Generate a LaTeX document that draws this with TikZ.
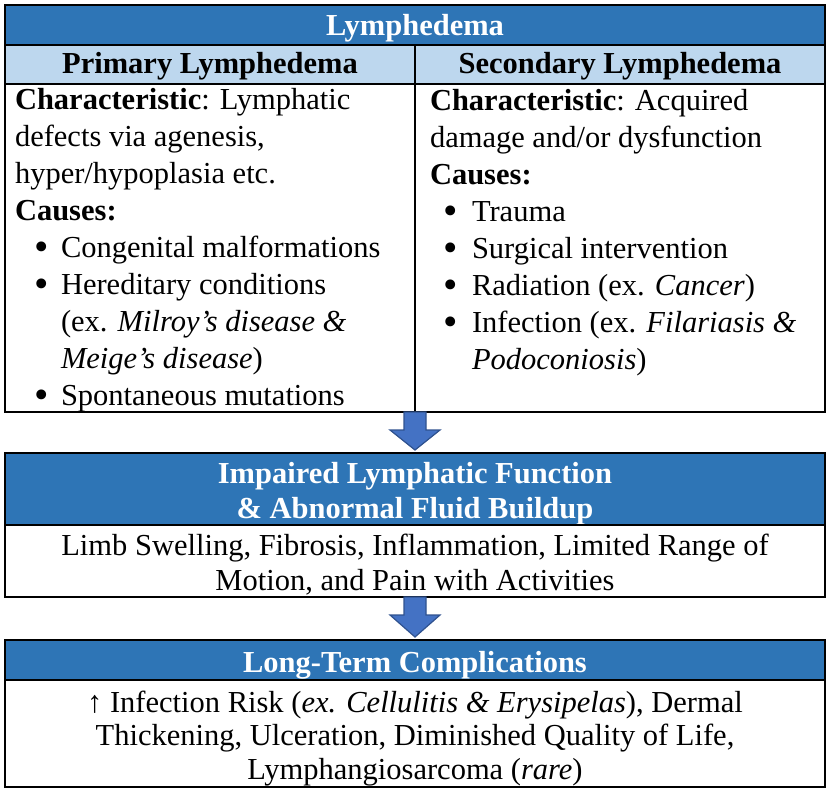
\documentclass[tikz,border=0pt]{standalone}
\usepackage{fontspec}
\setmainfont{Liberation Serif}
\usepackage{xcolor}
\usepackage{graphicx}
\usetikzlibrary{positioning}

\definecolor{hdblue}{HTML}{2E75B6}
\definecolor{subblue}{HTML}{BDD7EE}
\definecolor{arrblue}{HTML}{4472C4}
\definecolor{arredge}{HTML}{2F528F}

\newcommand{\bigbul}{\raisebox{-3pt}[0pt][0pt]{\scalebox{1.35}{\textbullet}}}
\newcommand{\bulL}{\hspace*{20pt}\makebox[26pt][l]{\bigbul}}
\newcommand{\indL}{\hspace*{46pt}}
\newcommand{\bulR}{\hspace*{13pt}\makebox[29pt][l]{\bigbul}}
\newcommand{\indR}{\hspace*{42pt}}

\tikzset{
  box/.style={draw=black, line width=1.4pt, inner sep=0pt, outer sep=0pt},
  darkhead/.style={box, fill=hdblue, text=white, align=center,
    font=\fontsize{30.5}{35}\selectfont\bfseries},
  subhead/.style={box, fill=subblue, text height=25pt, text depth=7pt,
    font=\fontsize{30.5}{37}\selectfont\bfseries},
  bodybox/.style={box, fill=white, align=center, font=\fontsize{30.5}{35}\selectfont},
  coltext/.style={inner sep=0pt, outer sep=0pt, align=left, font=\fontsize{30.5}{37}\selectfont},
  blockarr/.style={fill=arrblue, draw=arredge, line width=1.2pt, line join=miter}
}

\begin{document}
\begin{tikzpicture}[x=1pt, y=-1pt]
\useasboundingbox (0,0) rectangle (832,793);
\node[box, minimum width=820, minimum height=407, anchor=north west] (tab) at (5,5) {};
\node[darkhead, minimum width=820, minimum height=40, text height=26pt, text depth=6pt, anchor=north] (title) at (tab.north) {Lymphedema};
\node[subhead, minimum width=410, minimum height=39, anchor=north west] (prim) at (title.south west) {Primary Lymphedema};
\node[subhead, minimum width=410, minimum height=39, anchor=north west] (sec) at (prim.north east) {Secondary Lymphedema};
\draw[line width=1.4pt] (prim.south east) -- (prim.south east |- tab.south);
\node[coltext, below right=4.5pt and 10pt of prim.south west] (primtxt) {%
\textbf{Characteristic}: Lymphatic\\
defects via agenesis,\\
hyper/hypoplasia etc.\\
\textbf{Causes:}\\
\bulL Congenital malformations\\
\bulL Hereditary conditions\\
\indL (ex. \textit{Milroy’s disease \&}\\
\indL \textit{Meige’s disease})\\
\bulL Spontaneous mutations};
\node[coltext, below right=5pt and 15pt of sec.south west] (sectxt) {%
\textbf{Characteristic}: Acquired\\
damage and/or dysfunction\\
\textbf{Causes:}\\
\bulR Trauma\\
\bulR Surgical intervention\\
\bulR Radiation (ex. \textit{Cancer})\\
\bulR Infection (ex. \textit{Filariasis \&}\\
\indR \textit{Podoconiosis})};

\node[darkhead, minimum width=820, minimum height=72, text height=65pt, text depth=7pt, below=41pt of tab] (imp) {Impaired Lymphatic Function\\\& Abnormal Fluid Buildup};
\node[bodybox, minimum width=820, minimum height=72, text height=65pt, text depth=7pt, below=0pt of imp] (fn) {Limb Swelling, Fibrosis, Inflammation, Limited Range of\\Motion, and Pain with Activities};

\node[darkhead, minimum width=820, minimum height=40, text height=28pt, text depth=4pt, below=43pt of fn] (lt) {Long-Term Complications};
\node[bodybox, minimum width=820, minimum height=107, text height=95pt, text depth=4pt, font=\fontsize{30.5}{33.5}\selectfont, below=0pt of lt] (cx) {↑ Infection Risk (\textit{ex. Cellulitis \& Erysipelas}), Dermal\\Thickening, Ulceration, Diminished Quality of Life,\\Lymphangiosarcoma (\textit{rare})};

\draw[blockarr] (tab.south) ++(-11,0) -- ++(0,18) -- ++(-14,0) -- ++(25,20) -- ++(25,-20) -- ++(-14,0) -- ++(0,-18) -- cycle;
\draw[blockarr] (fn.south) ++(-11,0) -- ++(0,18) -- ++(-14,0) -- ++(25,22) -- ++(25,-22) -- ++(-14,0) -- ++(0,-18) -- cycle;
\end{tikzpicture}
\end{document}
